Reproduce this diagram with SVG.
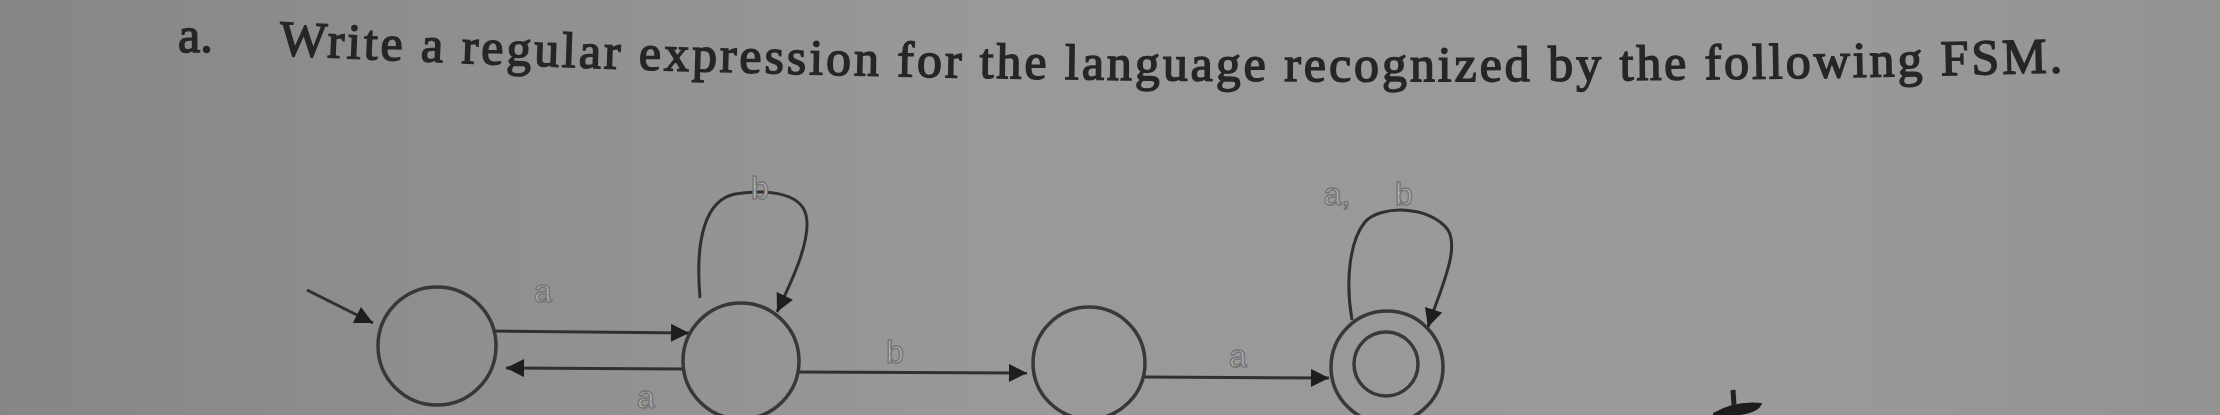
<svg xmlns="http://www.w3.org/2000/svg" width="2220" height="415" viewBox="0 0 2220 415">
<defs>
<linearGradient id="bg" x1="0" y1="0" x2="1" y2="0">
<stop offset="0" stop-color="#868686"/>
<stop offset="0.45" stop-color="#999999"/>
<stop offset="0.8" stop-color="#9a9a9a"/>
<stop offset="1" stop-color="#939393"/>
</linearGradient>
<marker id="arr" viewBox="0 0 10 10" refX="10" refY="5" markerWidth="22" markerHeight="18" markerUnits="userSpaceOnUse" orient="auto">
<path d="M0,0 L10,5 L0,10 Z" fill="#1e1e1e"/>
</marker>
<path id="titlePath" d="M 279,55 Q 1150,97 2075,72"/>
</defs>
<style>
.title{font-family:"Liberation Serif","Times New Roman",serif;font-size:50px;fill:#262626;stroke:#262626;stroke-width:1.5}
.state{fill:none;stroke:#383838;stroke-width:3.5}
.edge{fill:none;stroke:#303030;stroke-width:3;marker-end:url(#arr)}
.lbl{font-family:"Liberation Sans",Arial,sans-serif;font-size:32px;fill:#bababa;stroke:#767676;stroke-width:1.5;text-anchor:middle}
</style>
<rect x="0" y="0" width="2220" height="415" fill="url(#bg)"/>
<text class="title" x="178" y="52">a.</text>
<text class="title"><textPath href="#titlePath" textLength="1784" lengthAdjust="spacing">Write a regular expression for the language recognized by the following FSM.</textPath></text>

<g id="connectors">
<line class="edge" x1="307" y1="290" x2="373" y2="323"/>
<line class="edge" x1="494" y1="331" x2="689" y2="333"/>
<line class="edge" x1="683" y1="369" x2="506" y2="368"/>
<path class="edge" d="M 700 298 C 695 240, 705 200, 735 194 C 760 190, 800 190, 806 215 C 812 240, 790 285, 777 312"/>
<line class="edge" x1="799" y1="372" x2="1027" y2="373"/>
<line class="edge" x1="1145" y1="377" x2="1329" y2="378"/>
<path class="edge" d="M 1352 320 C 1345 280, 1350 240, 1365 222 C 1380 205, 1430 205, 1448 230 C 1460 250, 1440 290, 1428 327"/>
<text class="lbl" x="543" y="302">a</text>
<text class="lbl" x="646" y="408">a</text>
<text class="lbl" x="760" y="199">b</text>
<text class="lbl" x="895" y="363">b</text>
<text class="lbl" x="1238" y="367">a</text>
<text class="lbl" x="1337" y="205">a,<tspan x="1404">b</tspan></text>
</g>

<g id="q0"><circle class="state" cx="437" cy="346" r="59"/></g>
<g id="q1"><circle class="state" cx="741" cy="361" r="58"/></g>
<g id="q2"><circle class="state" cx="1089" cy="363" r="56"/></g>
<g id="q3"><circle class="state" cx="1387" cy="367" r="56"/><circle class="state" cx="1386" cy="364" r="32"/></g>

<g id="mark">
<path d="M 1713 413 Q 1735 400 1762 403 Q 1760 412 1740 415 L 1713 415 Z" fill="#1c1c1c"/>
<line x1="1733" y1="390" x2="1734" y2="405" stroke="#222" stroke-width="5"/>
</g>
</svg>
